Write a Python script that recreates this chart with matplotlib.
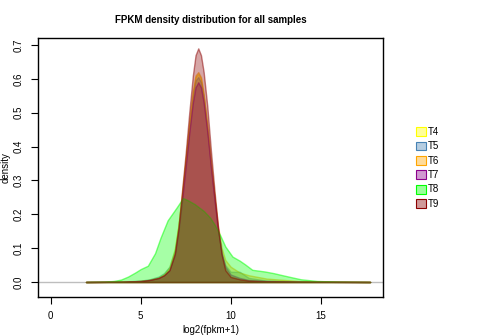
import matplotlib
matplotlib.use("Agg")
import matplotlib.pyplot as plt
from matplotlib.colors import to_rgba
from matplotlib.patches import Patch

plt.rcParams['font.family'] = ['Liberation Sans', 'DejaVu Sans']

# Sample names and colours
samples = ["T4", "T5", "T6", "T7", "T8", "T9"]
colors = ["#FFFF00", "#4682B4", "#FFA500", "#8B008B", "#00FF00", "#8B0000"]

# Density curves (narrow samples share one x grid)
x_narrow = [1.96, 3.0, 4.0, 5.0, 5.5, 6.0, 6.3, 6.6, 6.9, 7.1, 7.3, 7.5, 7.7, 7.9, 8.05,
            8.2, 8.35, 8.5, 8.7, 8.9, 9.1, 9.3, 9.5, 9.7, 10.0, 10.5, 11.0, 12.0, 14.0, 17.75]
y_T4 = [0, 0.0005, 0.001, 0.003, 0.007, 0.014, 0.024, 0.045, 0.10, 0.17, 0.26, 0.36, 0.46, 0.56, 0.605,
        0.615, 0.6, 0.55, 0.46, 0.35, 0.25, 0.15, 0.08, 0.04, 0.018, 0.009, 0.005, 0.002, 0.001, 0]
y_T5 = [0, 0.0005, 0.001, 0.004, 0.008, 0.016, 0.026, 0.045, 0.095, 0.165, 0.255, 0.355, 0.455, 0.55, 0.595,
        0.605, 0.59, 0.545, 0.455, 0.345, 0.245, 0.15, 0.085, 0.05, 0.03, 0.03, 0.012, 0.004, 0.001, 0]
y_T6 = [0, 0.0005, 0.001, 0.003, 0.006, 0.013, 0.022, 0.04, 0.09, 0.165, 0.26, 0.365, 0.47, 0.565, 0.61,
        0.62, 0.605, 0.555, 0.465, 0.355, 0.255, 0.165, 0.1, 0.065, 0.045, 0.028, 0.02, 0.01, 0.002, 0]
y_T7 = [0, 0.0005, 0.001, 0.003, 0.006, 0.012, 0.02, 0.035, 0.08, 0.15, 0.24, 0.34, 0.44, 0.53, 0.575,
        0.59, 0.575, 0.53, 0.445, 0.34, 0.245, 0.155, 0.085, 0.045, 0.022, 0.012, 0.006, 0.003, 0.001, 0]
y_T9 = [0, 0.0005, 0.001, 0.003, 0.006, 0.012, 0.02, 0.035, 0.085, 0.16, 0.27, 0.38, 0.5, 0.61, 0.67,
        0.69, 0.67, 0.62, 0.52, 0.39, 0.27, 0.16, 0.08, 0.035, 0.015, 0.008, 0.004, 0.002, 0.001, 0]

# T8 is the broad one
x_T8 = [1.96, 3.0, 3.5, 3.9, 4.3, 4.7, 5.0, 5.4, 5.8, 6.1, 6.5, 7.0, 7.35, 7.6, 8.0, 8.5,
        8.86, 9.1, 9.4, 9.7, 10.1, 10.5, 10.8, 11.2, 11.9, 12.4, 12.8, 13.3, 13.9, 14.8, 16.0, 17.75]
y_T8 = [0, 0.001, 0.003, 0.007, 0.016, 0.028, 0.038, 0.048, 0.085, 0.13, 0.182, 0.22, 0.248, 0.242, 0.23, 0.21,
        0.19, 0.17, 0.14, 0.105, 0.075, 0.063, 0.052, 0.036, 0.031, 0.026, 0.021, 0.015, 0.008, 0.003, 0.001, 0]

curves = [(x_narrow, y_T4), (x_narrow, y_T5), (x_narrow, y_T6),
          (x_narrow, y_T7), (x_T8, y_T8), (x_narrow, y_T9)]

xticks = [0, 5, 10, 15]
yticks = [0.0, 0.1, 0.2, 0.3, 0.4, 0.5, 0.6, 0.7]

alpha = 0.35

fig = plt.figure(figsize=(4.8, 3.36), dpi=100)
ax = fig.add_axes([38 / 480, 1 - 297 / 336, 345 / 480, 259 / 336])

ax.axhline(0, color="#BEBEBE", lw=1, zorder=0)

for (xs, ys), c in zip(curves, colors):
    ax.fill_between(xs, ys, 0, facecolor=to_rgba(c, alpha),
                    edgecolor=to_rgba(c, 0.5), linewidth=1)

ax.set_xlim(-0.7, 18.46)
ax.set_ylim(-0.0443, 0.7207)
ax.set_xticks(xticks)
ax.set_xticklabels([str(t) for t in xticks])
ax.set_yticks(yticks)
ax.set_yticklabels([f"{t:.1f}" for t in yticks], rotation=90, va="center")
ax.tick_params(direction="out", length=5, width=0.8, labelsize=7, pad=5)
for s in ax.spines.values():
    s.set_linewidth(1)

fig.text(210.5 / 480, 1 - 20 / 336, "FPKM density distribution for all samples",
         ha="center", va="center", fontsize=7, fontweight="bold")
fig.text(210.5 / 480, 1 - 330 / 336, "log2(fpkm+1)", ha="center", va="center", fontsize=7)
fig.text(6 / 480, 1 - 168 / 336, "density", ha="center", va="center", rotation=90, fontsize=7)

handles = [Patch(facecolor=to_rgba(c, 0.4), edgecolor=c, linewidth=0.8) for c in colors]
fig.legend(handles, samples, loc="upper left", bbox_to_anchor=(416 / 480, 1 - 127 / 336),
           frameon=False, fontsize=7, handlelength=1.0, handleheight=1.0,
           handletextpad=0.2, labelspacing=0.45, borderpad=0, borderaxespad=0)

fig.savefig("out.png", dpi=100)
